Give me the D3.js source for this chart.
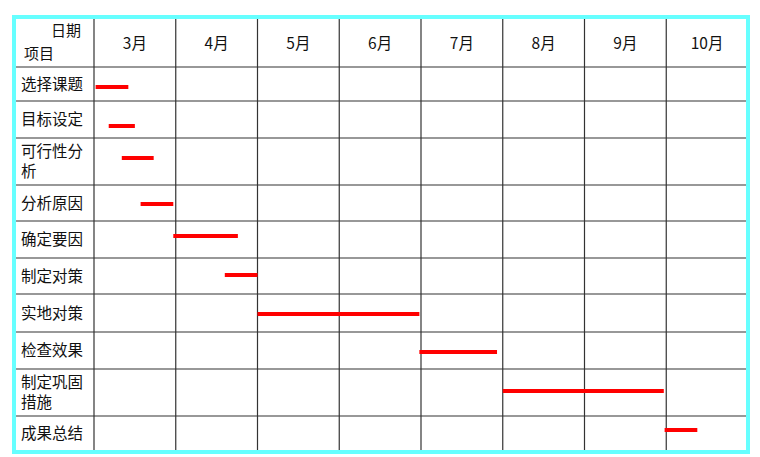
<!DOCTYPE html>
<html><head><meta charset="utf-8">
<script src="https://cdn.jsdelivr.net/npm/d3@7/dist/d3.min.js"></script>
<style>body{margin:0;background:#fff}svg{display:block}text{font-family:"Noto Sans CJK SC","Noto Sans",sans-serif;fill:#111}</style>
</head><body><svg id="c" width="760" height="457"></svg>
<script>
const months = ["3月","4月","5月","6月","7月","8月","9月","10月"];
const tasks = ["选择课题","目标设定","可行性分析","分析原因","确定要因","制定对策","实地对策","检查效果","制定巩固措施","成果总结"];
const starts = [3.02, 3.18, 3.34, 3.57, 3.97, 4.60, 5.00, 6.98, 8.00, 9.98];
const ends   = [3.42, 3.50, 3.73, 3.97, 4.76, 5.00, 6.98, 7.93, 9.97, 10.38];
const headerTop = "日期", headerBottom = "项目";

// layout
const rowHeights = [34, 37, 47, 36, 37, 36, 38, 37, 47, 35];
const barOffset = [3, 6.5, -3.5, 1, -3.5, -1, 1, 1.5, -1.5, -3.5];
const L = 14, T = 17, R = 748, B = 452, labelW = 94, headerB = 67;

const svg = d3.select("#c");
const x = d3.scaleLinear().domain([3, 11]).range([labelW, R]);
const rowTop = [];
{ let y = headerB; rowHeights.forEach(h => { rowTop.push(y); y += h; }); }
const g = svg.append("g");

// grid lines
const vlines = [labelW].concat(d3.range(4, 11).map(m => x(m)));
g.selectAll("line.v").data(vlines).join("line")
  .attr("x1", d => d).attr("x2", d => d).attr("y1", T).attr("y2", B)
  .attr("stroke", "#333").attr("stroke-width", 1.2);
const hlines = [headerB].concat(rowTop.slice(1));
g.selectAll("line.h").data(hlines).join("line")
  .attr("x1", L).attr("x2", R).attr("y1", d => d).attr("y2", d => d)
  .attr("stroke", "#333").attr("stroke-width", 1.2);

// header text
g.append("text").attr("x", 81).attr("y", 36).attr("text-anchor", "end").attr("font-size", 15).text(headerTop);
g.append("text").attr("x", 24).attr("y", 59).attr("font-size", 15).text(headerBottom);
g.selectAll("text.m").data(months).join("text")
  .attr("x", (d, i) => (x(3 + i) + x(4 + i)) / 2).attr("y", 48.5)
  .attr("text-anchor", "middle").attr("font-size", 15.5).text(d => d);

// task labels
tasks.forEach((t, i) => {
  const lines = [];
  for (let k = 0; k < t.length; k += 4) lines.push(t.slice(k, k + 4));
  const cy = rowTop[i] + rowHeights[i] / 2;
  const lh = 20;
  lines.forEach((ln, j) => {
    g.append("text").attr("x", 21).attr("font-size", 15.5)
      .attr("y", cy + (j - (lines.length - 1) / 2) * lh + 5.5).text(ln);
  });
});

// bars
g.selectAll("line.bar").data(tasks).join("line")
  .attr("x1", (d, i) => x(starts[i])).attr("x2", (d, i) => x(ends[i]))
  .attr("y1", (d, i) => rowTop[i] + rowHeights[i] / 2 + barOffset[i])
  .attr("y2", (d, i) => rowTop[i] + rowHeights[i] / 2 + barOffset[i])
  .attr("stroke", "#ff0000").attr("stroke-width", 4);

// frame
svg.append("rect").attr("x", L).attr("y", T).attr("width", R - L).attr("height", B - T)
  .attr("fill", "none").attr("stroke", "#66ffff").attr("stroke-width", 4);
</script></body></html>
